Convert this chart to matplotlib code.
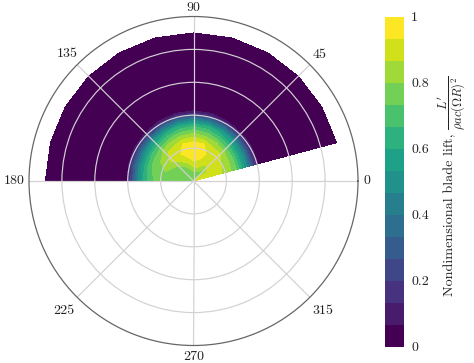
import numpy as np
import matplotlib
matplotlib.use("Agg")
import matplotlib.pyplot as plt

plt.rcParams['font.family'] = ['cmr10', 'DejaVu Serif']
plt.rcParams['mathtext.fontset'] = 'cm'
plt.rcParams['axes.unicode_minus'] = False
plt.rcParams['axes.formatter.use_mathtext'] = True

theta_deg = [15, 30, 45, 60, 75, 90, 105, 120, 135, 150, 165, 180]
radius = [0, .05, .09, .13, .18, .23, .27, .30, .34, .38, .41, .44, .90]
lift = [
    [.90, .88, .80, .78, .78, .78, .77, .77, .77, .77, .77, .77],
    [.90, .88, .80, .78, .78, .78, .77, .77, .77, .77, .77, .77],
    [.90, .88, .79, .82, .88, .87, .82, .78, .77, .77, .77, .77],
    [.90, .90, .88, .90, .93, .94, .91, .86, .80, .77, .77, .77],
    [.86, .88, .90, .92, .96, .98, .96, .92, .88, .83, .79, .78],
    [.81, .83, .87, .88, .94, .95, .94, .89, .86, .80, .78, .75],
    [.73, .75, .77, .80, .83, .86, .84, .81, .78, .74, .72, .69],
    [.62, .64, .67, .70, .74, .77, .75, .72, .69, .66, .64, .62],
    [.44, .48, .52, .57, .62, .64, .62, .58, .54, .50, .47, .44],
    [.20, .22, .27, .32, .37, .40, .37, .32, .29, .26, .24, .22],
    [.04, .06, .07, .09, .13, .15, .13, .10, .08, .07, .05, .03],
    [0] * 12,
    [0] * 12,
]
angle_ticks = [0, 45, 90, 135, 180, 225, 270, 315]
angle_labels = ['0', '45', '90', '135', '180', '225', '270', '315']
ring_ticks = [.2, .4, .6, .8]
cbar_ticks = [0, .2, .4, .6, .8, 1]
cbar_labels = ['0', '0.2', '0.4', '0.6', '0.8', '1']
n_levels = 15

W, H = 474, 363
fig = plt.figure(figsize=(W / 100, H / 100), dpi=100)
ax = fig.add_axes([29 / W, 17 / H, 329 / W, 330 / H], projection='polar')

T, R = np.meshgrid(np.deg2rad(theta_deg), radius)
levels = np.linspace(0, 1, n_levels + 1)
cmap = plt.get_cmap('viridis', n_levels)
cf = ax.contourf(T, R, np.array(lift), levels=levels, cmap=cmap, vmin=0, vmax=1)

ax.set_ylim(0, 1)
ax.set_thetagrids(angle_ticks, angle_labels)
ax.set_yticks(ring_ticks)
ax.set_yticklabels([])
ax.grid(True, color='#d4d0d4', lw=0.85)
ax.tick_params(axis='x', labelsize=10, pad=-4, colors='#222222')
label_pads = [-4, -1, -4, 0, 0, 3, -2, 3]
for tick, p in zip(ax.xaxis.get_major_ticks(), label_pads):
    tick.set_pad(p)
ax.spines['polar'].set_color('#666666')
ax.spines['polar'].set_linewidth(0.9)

cax = fig.add_axes([385.3 / W, 16.5 / H, 19 / W, 330 / H])
cb = fig.colorbar(cf, cax=cax, ticks=cbar_ticks)
cb.ax.set_yticklabels(cbar_labels)
cb.ax.tick_params(length=0, pad=5, labelsize=10, colors='#222222')
cb.outline.set_visible(False)

fig.text(450 / W, 1 - 215 / H, "Nondimensional blade lift,", rotation=90,
         ha='center', va='center', fontsize=10.2, color='#222222')
fig.text(452 / W, 1 - 103 / H, r"$\dfrac{L'}{\rho a c(\Omega R)^2}$", rotation=90,
         ha='center', va='center', fontsize=9, color='#222222')

fig.savefig('out.png', dpi=100)
